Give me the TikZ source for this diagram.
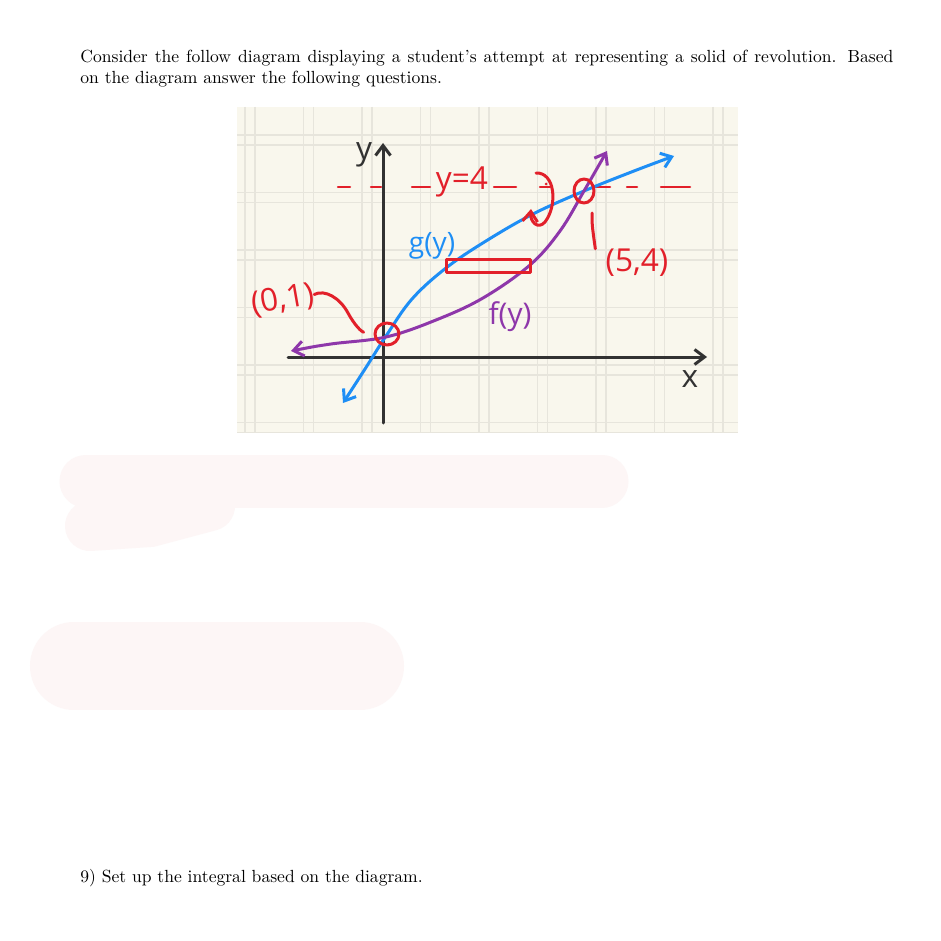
\documentclass[tikz,border=0pt]{standalone}
\usepackage{fontspec}
\newfontfamily\handfont{Open Sans}
\usetikzlibrary{arrows.meta,shapes.geometric}
\definecolor{paper}{RGB}{249,247,237}
\definecolor{gridgray}{RGB}{231,229,220}
\definecolor{blush}{RGB}{253,246,246}
\definecolor{inkred}{RGB}{226,32,42}
\definecolor{inkblue}{RGB}{30,142,245}
\definecolor{inkpurple}{RGB}{142,55,170}
\definecolor{inkaxis}{RGB}{50,50,50}

\begin{document}
\begin{tikzpicture}[x=0.2mm,y=-0.2mm,
  pen/.style={line width=0.6mm,line cap=round,line join=round},
  tip/.style={-{Straight Barb[length=2mm,width=3mm]}},
  hand/.style={font=\handfont\fontsize{18}{18}\selectfont,inner sep=0pt},
  ring/.style={draw=inkred,pen,ellipse,inner sep=0pt}]
\fill[white] (0,0) rectangle (941,941); \useasboundingbox (0,0) rectangle (941,941);
\node[anchor=north west,text width=162.6mm,align=justify,inner sep=0pt] (intro) at (80,50) {Consider the follow diagram displaying a student's attempt at representing a solid of revolution. Based\linebreak on the diagram answer the following questions.};
\draw[blush,line width=10.6mm,line cap=round] (86,481) -- (602,481); \draw[blush,line width=10mm,line cap=round] (90,526) -- (150,522) -- (210,506);
\draw[blush,line width=17.6mm,line cap=round] (74,666) -- (360,666);
\node[anchor=base west,inner sep=0pt] (q9) at (80,882) {9) Set up the integral based on the diagram.};

\fill[paper] (237,107) rectangle (738,432);
\begin{scope}\clip (237,107) rectangle (738,432);
\foreach \k in {0,...,8} \draw[gridgray,line width=0.25mm] ({245+58.5*\k},107) -- ++(0,325) ({255+58.5*\k},107) -- ++(0,325);
\foreach \k in {0,...,5} \draw[gridgray,line width=0.25mm] (237,{135+57.5*\k}) -- ++(501,0) (237,{145+57.5*\k}) -- ++(501,0);
\end{scope}
\draw[pen,inkaxis,tip] (383,423) -- (383,143); \draw[pen,inkaxis,tip] (288,357) -- (707,357);
\node[hand,inkaxis] (ylab) at (364,155) {y}; \node[hand,inkaxis] (xlab) at (690,379) {x};
\foreach \a/\b in {338/350,371/381,412/430,494/516,540/550,594/610,627/637,661/690} \draw[pen,inkred,line width=0.5mm] (\a,187) -- (\b,187);
\node[hand,inkred] (yfour) at (462,182) {y=4};
\draw[pen,inkblue,{Straight Barb[length=2mm,width=3mm]}-{Straight Barb[length=2mm,width=3mm]}] plot[smooth,tension=0.6] coordinates {(343,403) (365,369) (386,336) (412,299) (446,268) (486,241) (533,214) (584,191) (634,171) (674,156)};
\draw[pen,inkpurple,{Straight Barb[length=2mm,width=3mm]}-{Straight Barb[length=2mm,width=3mm]}] plot[smooth,tension=0.6] coordinates {(291,351) (331,344) (386,337) (436,320) (483,298) (530,265) (560,231) (584,191) (607,151)};
\draw[pen,inkred] (446,259) rectangle (530,272);
\draw[pen,inkred,tip] (536,173) .. controls (555,172) and (558,205) .. (545,222) .. controls (538,230) and (530,222) .. (531,209); \fill[inkred] (546,184) circle (1.5);
\node[ring,minimum width=4.8mm,minimum height=4.4mm] (c01) at (387,334) {}; \node[ring,minimum width=4mm,minimum height=4.8mm] (c54) at (584,191) {};
\node[hand,inkred,rotate=10] (lab01) at (283,300) {(0,1)}; \node[hand,inkred] (lab54) at (637,263) {(5,4)};
\node[hand,inkblue,font=\handfont\fontsize{16}{16}\selectfont] (glab) at (432,246) {g(y)}; \node[hand,inkpurple,font=\handfont\fontsize{17}{17}\selectfont] (flab) at (510,317) {f(y)};
\draw[pen,inkred,shorten >=2mm] (lab01.east) .. controls (325,289) and (340,298) .. (348,313) .. controls (355,326) and (362,332) .. (c01.west);
\draw[pen,inkred,shorten <=2.5mm] (c54.south east) .. controls (592,225) .. ([xshift=-2mm]lab54.north west);
\end{tikzpicture}
\end{document}
